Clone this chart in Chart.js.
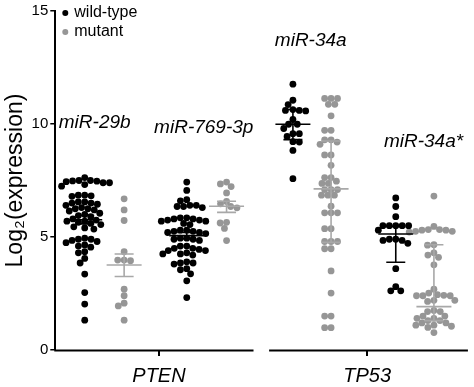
<!DOCTYPE html>
<html>
<head>
<meta charset="utf-8">
<script src="https://cdn.jsdelivr.net/npm/chart.js@4.4.0/dist/chart.umd.min.js"></script>
<style>
  html, body { margin: 0; padding: 0; background: #fff; }
</style>
</head>
<body>
<canvas id="chart" width="474" height="387"></canvas>
<script>
const genes = ["PTEN", "TP53"];
const genePositions = [2.5, 7.52];
const mirnas = ["miR-29b", "miR-769-3p", "miR-34a", "miR-34a*"];

// x position of each group (wild-type / mutant) on the linear x scale
const wildCenters = [0.71, 3.17, 5.73, 8.21];
const mutantCenters = [1.66, 4.13, 6.65, 9.13];

const wild29b = [7.63, 7.5, 7.48, 7.45, 7.4, 7.32, 7.25, 7.4, 7.47, 7.5, 6.85, 6.82, 6.8, 6.85,
  6.55, 6.5, 6.45, 6.5, 6.55, 6.4, 6.25, 6.2, 6.3, 6.15, 6.25, 6.0, 5.95, 6.05, 5.9,
  5.8, 5.75, 5.7, 5.65, 5.6, 5.7, 5.55, 5.4, 5.35, 5.45, 4.95, 4.9, 4.85, 4.8, 4.75, 4.9,
  4.65, 4.6, 4.55, 4.35, 4.3, 4.05, 3.85, 3.36, 2.54, 2.03, 1.32];
const mutant29b = [6.69, 6.2, 5.73, 4.35, 3.98, 3.95, 3.98, 2.69, 2.4, 2.07, 1.95, 1.32];

const wild769 = [7.43, 7.06, 6.65, 6.6, 6.4, 6.35, 6.3, 6.35, 6.4, 5.85, 5.8, 5.75, 5.7, 5.6,
  5.55, 5.7, 5.75, 5.8, 5.85, 5.3, 5.25, 5.2, 5.15, 5.2, 5.25, 5.3, 4.95, 4.9, 4.85, 4.9,
  4.95, 4.6, 4.5, 4.4, 4.3, 4.4, 4.5, 4.6, 4.45, 4.25, 4.2, 4.25, 3.85, 3.8, 3.85, 3.9,
  3.6, 3.55, 3.37, 3.06, 2.32];
const mutant769 = [7.43, 7.35, 7.23, 6.95, 6.57, 6.47, 6.35, 6.29, 5.65, 5.62, 5.38, 4.84];

const wild34a = [11.76, 11.05, 10.86, 10.64, 10.6, 10.6, 10.58, 10.2, 9.99, 9.99, 9.8, 9.57,
  9.57, 9.45, 9.22, 9.2, 8.83, 7.58];
const mutant34a = [11.13, 11.13, 11.13, 10.87, 10.87, 10.36, 9.72, 9.72, 9.3, 9.2, 9.1, 9.3,
  8.63, 8.63, 8.17, 7.63, 7.63, 7.47, 7.37, 7.37, 7.1, 7.1, 7.1, 6.85, 6.85, 6.85, 6.36,
  6.07, 6.07, 6.07, 5.37, 5.37, 4.8, 4.8, 4.8, 4.48, 4.48, 3.5, 2.52, 1.5, 1.5, 0.99, 0.99];

const wild34aStar = [6.73, 6.35, 5.9, 5.5, 5.5, 5.5, 5.5, 5.5, 5.3, 4.9, 4.85, 4.85, 4.72,
  4.9, 3.6, 2.8, 2.62, 2.62];
const mutant34aStar = [6.81, 5.47, 5.33, 5.3, 5.25, 5.22, 5.25, 5.3, 5.33, 4.66, 4.64, 4.3,
  4.2, 4.1, 3.77, 2.69, 2.52, 2.42, 2.4, 2.4, 2.4, 2.45, 2.2, 2.15, 2.2, 1.75, 1.7, 1.7,
  1.5, 1.4, 1.3, 1.2, 1.1, 1.0, 1.1, 1.2, 1.3, 1.4, 1.5, 1.05, 0.77];

// [centre, lower, upper] of the bars drawn on each group
const wildBars = [[5.76, 5.58, 5.95], [5.06, 4.92, 5.2], [9.99, 9.31, 10.64], [5.13, 3.88, 5.47]];
const mutantBars = [[3.76, 3.25, 4.25], [6.36, 6.09, 6.58], [7.13, 4.76, 9.25], [1.92, 1.3, 4.66]];

const wildGroups = [wild29b, wild769, wild34a, wild34aStar];
const mutantGroups = [mutant29b, mutant769, mutant34a, mutant34aStar];

const FONT = "'Liberation Sans', Arial, sans-serif";
const BLACK = "#000000";
const GREY = "#969696";
const GREY_BAR = "#a8a8a8";
const DOT_R = 3.4;

// beeswarm offsets (pixels) for a list of y pixel positions
function swarm(ypx, d) {
  const order = ypx.map((y, i) => i).sort((a, b) => ypx[a] - ypx[b]);
  const placed = [];
  const out = new Array(ypx.length).fill(0);
  for (const i of order) {
    const y = ypx[i];
    const blocked = [];
    for (const p of placed) {
      const dy = Math.abs(p.y - y);
      if (dy < d) {
        const w = Math.sqrt(d * d - dy * dy);
        blocked.push([p.x - w, p.x + w]);
      }
    }
    const cands = [0];
    blocked.forEach(([a, b]) => cands.push(a, b));
    cands.sort((a, b) => Math.abs(a) - Math.abs(b));
    let x = 0;
    for (const c of cands) {
      if (blocked.every(([a, b]) => c <= a + 1e-6 || c >= b - 1e-6)) { x = c; break; }
    }
    placed.push({ x, y });
    out[i] = x;
  }
  return out;
}

const decorations = {
  id: "decorations",
  afterDatasetsDraw(chart) {
    const { ctx, scales: { x, y }, chartArea } = chart;
    ctx.save();
    // error bars
    const drawBars = (centers, bars, color) => {
      ctx.strokeStyle = color;
      ctx.lineWidth = 1.6;
      centers.forEach((cx, i) => {
        const px = x.getPixelForValue(cx);
        const [m, lo, hi] = bars[i];
        const pm = y.getPixelForValue(m), pl = y.getPixelForValue(lo), ph = y.getPixelForValue(hi);
        ctx.beginPath();
        ctx.moveTo(px, ph); ctx.lineTo(px, pl);
        ctx.moveTo(px - 17.5, pm); ctx.lineTo(px + 17.5, pm);
        ctx.moveTo(px - 9.5, ph); ctx.lineTo(px + 9.5, ph);
        ctx.moveTo(px - 9.5, pl); ctx.lineTo(px + 9.5, pl);
        ctx.stroke();
      });
    };
    drawBars(wildCenters, wildBars, BLACK);
    drawBars(mutantCenters, mutantBars, GREY_BAR);

    // broken x axis
    ctx.strokeStyle = BLACK;
    ctx.lineWidth = 2;
    const by = chartArea.bottom + 0.5;
    [[0, 4.78], [5.18, 9.95]].forEach(([a, b]) => {
      ctx.beginPath();
      ctx.moveTo(x.getPixelForValue(a) - 1, by);
      ctx.lineTo(x.getPixelForValue(b), by);
      ctx.stroke();
    });

    // group labels
    ctx.fillStyle = BLACK;
    ctx.font = "italic 19px " + FONT;
    ctx.textAlign = "center";
    ctx.textBaseline = "middle";
    const anchors = [[0.95, 10.05], [3.58, 9.85], [6.16, 13.7], [8.88, 9.23]];
    mirnas.forEach((name, i) => {
      ctx.fillText(name, x.getPixelForValue(anchors[i][0]), y.getPixelForValue(anchors[i][1]));
    });

    // legend
    ctx.font = "16px " + FONT;
    ctx.textAlign = "left";
    const items = [["wild-type", BLACK], ["mutant", GREY]];
    items.forEach(([label, color], i) => {
      const ly = chartArea.top + 2 + i * 19;
      ctx.fillStyle = color;
      ctx.beginPath();
      ctx.arc(chartArea.left + 10, ly, 3, 0, Math.PI * 2);
      ctx.fill();
      ctx.fillStyle = BLACK;
      ctx.fillText(label, chartArea.left + 19, ly);
    });
    ctx.restore();
  }
};

const chart = new Chart(document.getElementById("chart"), {
  type: "scatter",
  data: {
    datasets: [
      { label: "wild-type", data: [], backgroundColor: BLACK, borderWidth: 0, pointRadius: DOT_R },
      { label: "mutant", data: [], backgroundColor: GREY, borderWidth: 0, pointRadius: DOT_R }
    ]
  },
  options: {
    responsive: false,
    animation: false,
    layout: { padding: { left: 2, right: 2, top: 11, bottom: -9 } },
    plugins: { legend: { display: false }, tooltip: { enabled: false } },
    scales: {
      x: {
        type: "linear",
        min: 0,
        max: 10,
        border: { display: false },
        grid: { drawOnChartArea: false, color: BLACK, lineWidth: 2, tickLength: 6 },
        afterBuildTicks: (s) => { s.ticks = genePositions.map((v) => ({ value: v })); },
        ticks: {
          autoSkip: false,
          maxRotation: 0,
          padding: 8,
          color: BLACK,
          font: { family: FONT, size: 20, style: "italic" },
          callback: (v) => genes[genePositions.indexOf(v)]
        }
      },
      y: {
        min: 0,
        max: 15,
        border: { color: BLACK, width: 2 },
        grid: { drawOnChartArea: false, color: BLACK, lineWidth: 1.5, tickLength: 5 },
        ticks: { stepSize: 5, padding: 2, color: BLACK, font: { family: FONT, size: 15 } },
        title: {
          display: true,
          text: "Log\u2082(expression)",
          color: BLACK,
          padding: 0,
          font: { family: FONT, size: 23 }
        }
      }
    }
  },
  plugins: [decorations]
});

// place the dots as a beeswarm around each group centre, using the laid out scales
function placePoints() {
  const xs = chart.scales.x, ys = chart.scales.y;
  const pxPerUnit = xs.getPixelForValue(1) - xs.getPixelForValue(0);
  const build = (groups, centers) => {
    const pts = [];
    groups.forEach((vals, g) => {
      const off = swarm(vals.map((v) => ys.getPixelForValue(v)), DOT_R * 1.9);
      vals.forEach((v, k) => pts.push({ x: centers[g] + off[k] / pxPerUnit, y: v }));
    });
    return pts;
  };
  chart.data.datasets[0].data = build(wildGroups, wildCenters);
  chart.data.datasets[1].data = build(mutantGroups, mutantCenters);
  chart.update("none");
}
placePoints();
</script>
</body>
</html>
